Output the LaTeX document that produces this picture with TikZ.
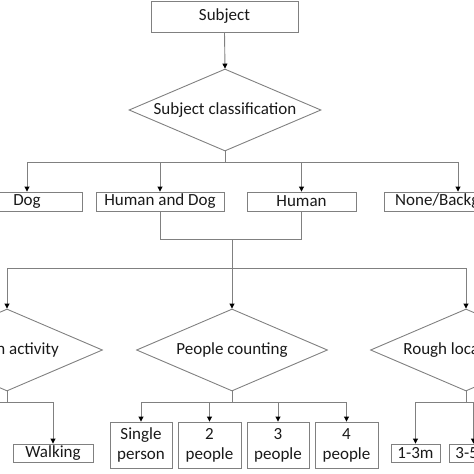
\documentclass[tikz,border=0pt]{standalone}
\usepackage{fontspec}
\setmainfont{Carlito}
\usetikzlibrary{shapes.geometric,arrows.meta}
\definecolor{linegray}{RGB}{128,128,128}
\begin{document}
\begin{tikzpicture}[x=1pt,y=-1pt,
  txt/.style={font=\fontsize{17}{20}\selectfont, text=black!90},
  box/.style={txt, draw=linegray, line width=0.9pt, rectangle, inner sep=0pt, align=center},
  dia/.style={txt, draw=linegray, line width=0.9pt, diamond, shape aspect=2.33, inner sep=0pt},
  conn/.style={draw=linegray, line width=0.9pt},
  arr/.style={conn, -{Triangle[width=5pt,length=5pt,color=black]}}
]
\useasboundingbox (0,0) rectangle (474,474);

% level 0
\node[box, minimum width=147pt, minimum height=31pt] (subj) at (224.5,16.5) {Subject};
\node[dia, minimum width=192pt, minimum height=82pt] (cls) at (225,110) {Subject classification};

% level 1
\node[box, minimum width=110pt, minimum height=19pt] (dog) at (27,201.5) {Dog};
\node[box, minimum width=128pt, minimum height=19pt] (hd) at (160,201.5) {Human and Dog};
\node[box, minimum width=109pt, minimum height=19pt] (hu) at (301.5,201.5) {Human};
\node[box, minimum width=148pt, minimum height=19pt] (bg) at (458,201.5) {None/Background};

% level 2
\node[dia, minimum width=191pt, minimum height=82pt] (ha) at (7,350) {Human activity};
\node[dia, minimum width=191pt, minimum height=82pt] (pc) at (232,350) {People counting};
\node[dia, minimum width=191pt, minimum height=82pt] (rl) at (466,350) {Rough localization};

% level 3
\node[box, minimum width=80pt, minimum height=18pt] (walk) at (53,453) {Walking};
\node[box, minimum width=62pt, minimum height=46pt] (p1) at (141,445) {Single\\person};
\node[box, minimum width=63pt, minimum height=46pt] (p2) at (209.5,445) {2\\people};
\node[box, minimum width=62pt, minimum height=46pt] (p3) at (278,445) {3\\people};
\node[box, minimum width=63pt, minimum height=46pt] (p4) at (346.5,445) {4\\people};
\node[box, minimum width=49pt, minimum height=18pt] (m13) at (415.5,453) {1-3m};
\node[box, minimum width=49pt, minimum height=18pt] (m35) at (473.5,453) {3-5m};

% coordinates for buses
\coordinate (b1) at (225,162);
\coordinate (j) at (232,239);
\coordinate (b2) at (232,268);
\coordinate (b3) at (232,402);
\coordinate (hal) at (-20,402);
\coordinate (rlr) at (500,402);

% connectors level 0 -> 1
\draw[arr] (subj.south) -- (cls.north);
\draw[conn] (cls.south) -- (b1);
\draw[conn] (b1 -| dog.north) -- (b1 -| bg.north);
\draw[arr] (b1 -| dog.north) -- (dog.north);
\draw[arr] (b1 -| hd.north) -- (hd.north);
\draw[arr] (b1 -| hu.north) -- (hu.north);
\draw[arr] (b1 -| bg.north) -- (bg.north);

% join -> level 2
\draw[conn] (hd.south) -- (hd.south |- j) -- (hu.south |- j) -- (hu.south);
\draw[conn] (j) -- (b2);
\draw[conn] (b2 -| ha.north) -- (b2 -| rl.north);
\draw[arr] (b2 -| ha.north) -- (ha.north);
\draw[arr] (b2) -- (pc.north);
\draw[arr] (b2 -| rl.north) -- (rl.north);

% level 2 -> 3
\draw[conn] (ha.south) -- (ha.south |- b3);
\draw[conn] (hal) -- (b3 -| walk.north);
\draw[arr] (b3 -| walk.north) -- (walk.north);

\draw[conn] (pc.south) -- (b3);
\draw[conn] (b3 -| p1.north) -- (b3 -| p4.north);
\draw[arr] (b3 -| p1.north) -- (p1.north);
\draw[arr] (b3 -| p2.north) -- (p2.north);
\draw[arr] (b3 -| p3.north) -- (p3.north);
\draw[arr] (b3 -| p4.north) -- (p4.north);

\draw[conn] (rl.south) -- (rl.south |- b3);
\draw[conn] (b3 -| m13.north) -- (rlr);
\draw[arr] (b3 -| m13.north) -- (m13.north);
\draw[arr] (b3 -| m35.north) -- (m35.north);
\end{tikzpicture}
\end{document}
